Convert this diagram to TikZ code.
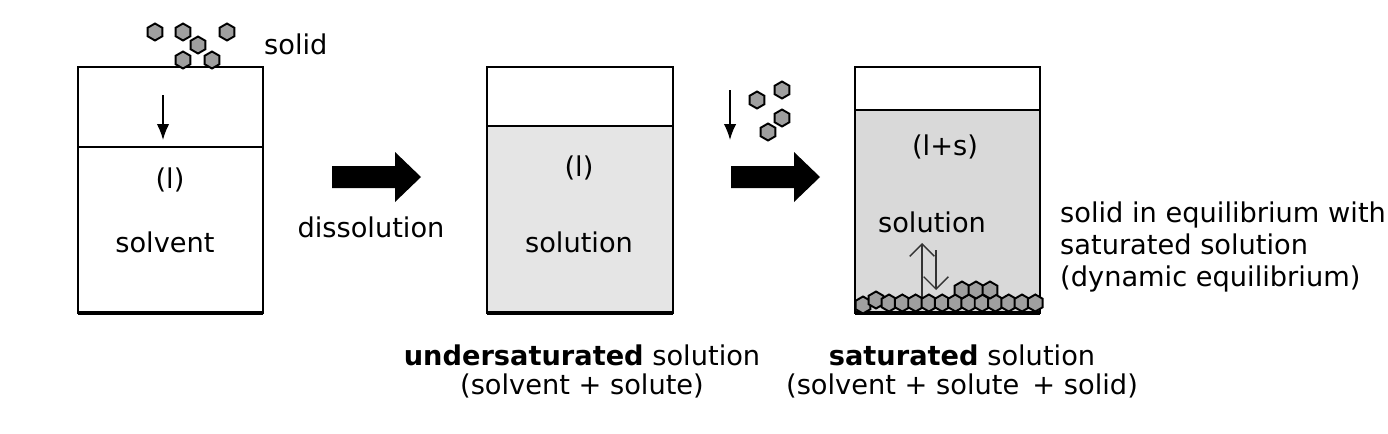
\documentclass[tikz,border=0pt]{standalone}
\usepackage{fontspec}
\setmainfont{DejaVu Sans}
\usetikzlibrary{arrows.meta,shapes.geometric}
\begin{document}
\begin{tikzpicture}[x=0.02cm,y=-0.02cm,
  lbl/.style={font=\fontsize{15.5}{18}\selectfont},
  hexa/.style={regular polygon,regular polygon sides=6,shape border rotate=30,draw,line width=1.1pt,fill=gray!75,minimum size=17*0.02cm,inner sep=0pt},
  beaker/.style={draw,line width=0.9pt},
  thinarrow/.style={-{Latex[length=9pt,width=7pt]},line width=0.9pt}]
\useasboundingbox (0,0) rectangle (1388,433);
% beaker 1
\draw[beaker] (78,67) rectangle (263,313);
\draw[beaker] (78,147) -- (263,147);
\draw[line width=2pt] (78,313) -- (263,313);
\node[lbl] (l1) at (170,180) {(l)};
\node[lbl] (s1) at (165,242) {solvent};
\coordinate (a1s) at (163,95); \coordinate (a1e) at (163,140);
\draw[thinarrow] (a1s) -- (a1e);
\foreach \x/\y in {155/32,183/32,227/32,198/45,183/60,212/60} \node[hexa] at (\x,\y) {};
\node[lbl,anchor=west] (solid) at (258,44) {solid};
% arrow 1
\fill (332,166) -- (395,166) -- (395,152) -- (421,177) -- (395,202) -- (395,188) -- (332,188) -- cycle;
\node[lbl] (diss) at (371,227) {dissolution};
% beaker 2
\fill[gray!20] (487,126) rectangle (673,313);
\draw[beaker] (487,67) rectangle (673,313);
\draw[beaker] (487,126) -- (673,126);
\draw[line width=2pt] (487,313) -- (673,313);
\node[lbl] (l2) at (579,168) {(l)};
\node[lbl] (s2) at (579,242) {solution};
% small arrow + hexagons
\coordinate (a2s) at (730,90); \coordinate (a2e) at (730,140);
\draw[thinarrow] (a2s) -- (a2e);
\foreach \x/\y in {757/100,782/90,782/118,768/132} \node[hexa] at (\x,\y) {};
\fill (731,166) -- (794,166) -- (794,152) -- (820,177) -- (794,202) -- (794,188) -- (731,188) -- cycle;
% beaker 3
\fill[gray!30] (855,110) rectangle (1040,313);
\draw[beaker] (855,67) rectangle (1040,313);
\draw[beaker] (855,110) -- (1040,110);
\draw[line width=2pt] (855,313) -- (1040,313);
\node[lbl] (l3) at (945,147) {(l+s)};
\node[lbl] (s3) at (932,222) {solution};
\coordinate (u1) at (922,300); \coordinate (u2) at (922,243);
\coordinate (d1) at (936,250); \coordinate (d2) at (936,290);
\draw[-{Straight Barb[length=7pt]},line width=0.8pt,black!80] (u1) -- (u2);
\draw[-{Straight Barb[length=7pt]},line width=0.8pt,black!80] (d1) -- (d2);
\node[hexa] at (863,305) {};
\node[hexa] at (876,300) {};
\foreach \i in {0,...,11} \node[hexa] at (889+\i*13.3,303) {};
\foreach \x in {962,976,990} \node[hexa] at (\x,290) {};
% right text
\node[lbl,anchor=west,align=left] (eq) at (1054,247) {solid in equilibrium with\\saturated solution\\(dynamic equilibrium)};
% bottom labels
\node[lbl] (b1) at (582,355) {\textbf{undersaturated} solution};
\node[lbl] (b2) at (582,386) {(solvent + solute)};
\node[lbl] (b3) at (962,355) {\textbf{saturated} solution};
\node[lbl] (b4) at (962,386) {(solvent + solute \,+ solid)};
\end{tikzpicture}
\end{document}
